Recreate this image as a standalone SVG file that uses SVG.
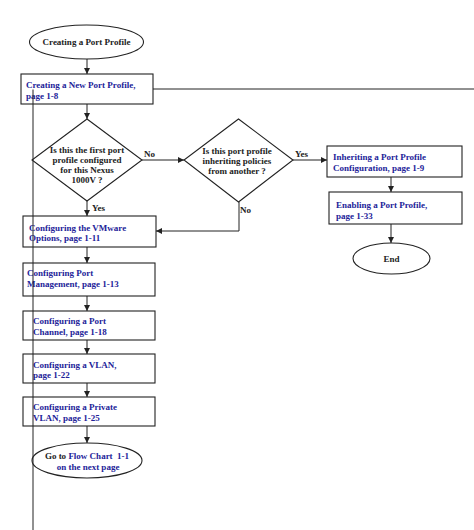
<svg xmlns="http://www.w3.org/2000/svg" width="474" height="530" viewBox="0 0 474 530">
<style>
.shape{fill:#fff;stroke:#222;stroke-width:1.1}
.line{fill:none;stroke:#222;stroke-width:1}
.t{font-family:"Liberation Serif","Times New Roman",serif;font-weight:bold;font-size:9px;fill:#222}
.l{fill:#232399}
.c{text-anchor:middle}
.pre{white-space:pre}
</style>
<defs>
<marker id="ah" viewBox="0 0 6 6" refX="6" refY="3" markerWidth="6" markerHeight="6" orient="auto" markerUnits="userSpaceOnUse">
<path d="M0,0 L6,3 L0,6 Z" fill="#222"/>
</marker>
</defs>
<rect width="474" height="530" fill="#fff"/>

<g id="connectors">
<line class="line" x1="153" y1="89" x2="474" y2="89"/>
<line class="line" x1="87" y1="59" x2="87" y2="74" marker-end="url(#ah)"/>
<line class="line" x1="87" y1="104" x2="87" y2="119" marker-end="url(#ah)"/>
<line class="line" x1="142" y1="160" x2="184" y2="160" marker-end="url(#ah)"/>
<line class="line" x1="87" y1="201" x2="87" y2="216" marker-end="url(#ah)"/>
<polyline class="line" points="239,202 239,231 156,231" marker-end="url(#ah)"/>
<line class="line" x1="293" y1="160" x2="327" y2="160" marker-end="url(#ah)"/>
<line class="line" x1="391" y1="177" x2="391" y2="192" marker-end="url(#ah)"/>
<line class="line" x1="391" y1="224" x2="391" y2="243" marker-end="url(#ah)"/>
<line class="line" x1="87" y1="247" x2="87" y2="263" marker-end="url(#ah)"/>
<line class="line" x1="87" y1="296" x2="87" y2="311" marker-end="url(#ah)"/>
<line class="line" x1="87" y1="340" x2="87" y2="354" marker-end="url(#ah)"/>
<line class="line" x1="87" y1="383" x2="87" y2="397" marker-end="url(#ah)"/>
<line class="line" x1="87" y1="426" x2="87" y2="443" marker-end="url(#ah)"/>
<text class="t" x="144" y="157">No</text>
<text class="t" x="92" y="211">Yes</text>
<text class="t" x="295" y="157">Yes</text>
<text class="t" x="240" y="213">No</text>
</g>

<g id="start">
<ellipse class="shape" cx="86.5" cy="42" rx="57" ry="17"/>
<text class="t c" x="86.5" y="45">Creating a Port Profile</text>
</g>

<g id="new-port-profile">
<rect class="shape" x="21" y="74" width="132" height="30"/>
<text class="t l" x="26" y="88">Creating a New Port Profile,</text>
<text class="t l" x="26" y="99">page 1-8</text>
</g>

<g id="q-first">
<polygon class="shape" points="87,119 142,160 87,201 32,160"/>
<text class="t c" x="87" y="153">Is this the first port</text>
<text class="t c" x="87" y="163">profile configured</text>
<text class="t c" x="87" y="173">for this Nexus</text>
<text class="t c" x="87" y="183">1000V ?</text>
</g>

<g id="q-inherit">
<polygon class="shape" points="238.5,119 293,160 238.5,202 184,160"/>
<text class="t c" x="237" y="154">Is this port profile</text>
<text class="t c" x="237" y="164">inheriting policies</text>
<text class="t c" x="237" y="174">from another ?</text>
</g>

<g id="inherit-config">
<rect class="shape" x="327" y="146" width="135" height="31"/>
<text class="t l" x="333" y="160">Inheriting a Port Profile</text>
<text class="t l" x="333" y="171">Configuration, page 1-9</text>
</g>

<g id="enable">
<rect class="shape" x="329" y="192" width="133" height="32"/>
<text class="t l" x="336" y="208">Enabling a Port Profile,</text>
<text class="t l" x="336" y="219">page 1-33</text>
</g>

<g id="end">
<ellipse class="shape" cx="391.5" cy="258.5" rx="38.5" ry="15.5"/>
<text class="t c" x="391.5" y="261.5">End</text>
</g>

<g id="vmware">
<rect class="shape" x="23" y="216" width="133" height="31"/>
<text class="t l" x="29" y="231">Configuring the VMware</text>
<text class="t l" x="29" y="241">Options, page 1-11</text>
</g>

<g id="port-mgmt">
<rect class="shape" x="23" y="263" width="132" height="33"/>
<text class="t l" x="27" y="276">Configuring Port</text>
<text class="t l" x="27" y="287">Management, page 1-13</text>
</g>

<g id="port-channel">
<rect class="shape" x="23" y="311" width="132" height="29"/>
<text class="t l" x="33" y="324">Configuring a Port</text>
<text class="t l" x="33" y="335">Channel, page 1-18</text>
</g>

<g id="vlan">
<rect class="shape" x="23" y="354" width="132" height="29"/>
<text class="t l" x="33" y="368">Configuring a VLAN,</text>
<text class="t l" x="33" y="378">page 1-22</text>
</g>

<g id="private-vlan">
<rect class="shape" x="23" y="397" width="132" height="29"/>
<text class="t l" x="33" y="410">Configuring a Private</text>
<text class="t l" x="33" y="421">VLAN, page 1-25</text>
</g>

<g id="goto">
<ellipse class="shape" cx="87" cy="460.5" rx="55" ry="17.5"/>
<text class="t c pre" x="87" y="459">Go to <tspan class="l">Flow Chart  1-1</tspan></text>
<text class="t c l" x="88" y="470">on the next page</text>
</g>

<g id="border-line">
<line class="line" x1="33" y1="89.5" x2="33" y2="530" stroke-width="1.3"/>
</g>
</svg>
